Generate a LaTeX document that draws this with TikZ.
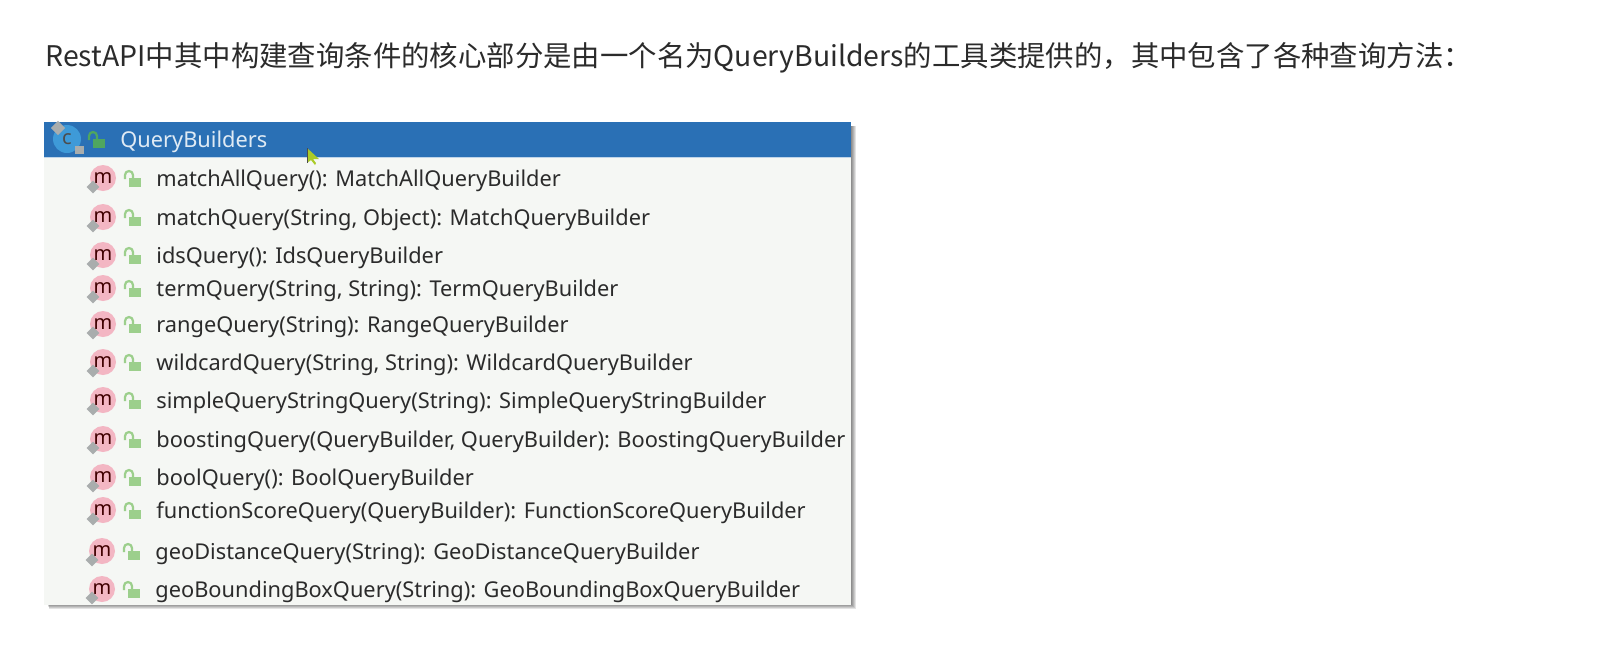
\documentclass[tikz,border=0pt]{standalone}
\usepackage{fontspec}
\setmainfont{Noto Sans}
\newfontfamily\cjk{Noto Sans CJK SC}
\usetikzlibrary{positioning}
\definecolor{headblue}{HTML}{2A70B5}
\definecolor{panelbg}{HTML}{F5F7F4}
\definecolor{pinkm}{HTML}{F3B6C3}
\definecolor{lockgreen}{HTML}{9CCF8C}
\definecolor{lockdark}{HTML}{4FA65F}
\definecolor{iconblue}{HTML}{3E9AD8}
\definecolor{tagray}{HTML}{A9ADAD}
\definecolor{inktext}{HTML}{2B2B2B}
\tikzset{
    rowtext/.style={anchor=west, inner sep=0pt, text=inktext, font=\fontsize{10.9}{13}\selectfont},
    micon/.style={circle, fill=pinkm, minimum size=13pt, inner sep=0pt, text=black!75!red, font=\fontsize{10}{10}\selectfont},
    tagicon/.style={fill=tagray, minimum size=4.5pt, inner sep=0pt, rotate=45}
}
\newcommand{\lockicon}[3]{%
    \fill[#3] (#1-4, #2) rectangle (#1+8, #2+9);
    \draw[#3, line width=1.1pt] (#1-8, #2+1) -- (#1-8, #2-3) arc[start angle=180, end angle=360, radius=4] -- (#1, #2);
}
\begin{document}
\begin{tikzpicture}[x=0.5pt, y=-0.5pt]
\useasboundingbox (0, 0) rectangle (1603, 644);
\fill[white] (0, 0) rectangle (1603, 644);

% titolo
\node[anchor=west, inner sep=0pt, text=inktext, font=\fontsize{14.2}{17}\selectfont\cjk] (title) at (45, 58)
    {RestAPI中其中构建查询条件的核心部分是由一个名为QueryBuilders的工具类提供的，其中包含了各种查询方法：};

% ombra
\foreach \i in {1, ..., 6} {
    \fill[black, opacity=0.11] (46 + \i / 2, 126) rectangle (850 + \i, 603 + \i);
}

% pannello
\fill[panelbg] (44, 157) rectangle (851, 605);
\fill[headblue] (44, 122) rectangle (851, 157);
\draw[white!70!headblue] (44, 157) -- (851, 157);

% intestazione
\node[circle, fill=iconblue, minimum size=14pt, inner sep=0pt, text=black!70, font=\fontsize{10}{10}\selectfont] (classicon) at (67, 139) {c};
\node[fill=tagray, minimum size=5pt, inner sep=0pt, rotate=45] (classtag) at (58, 128) {};
\fill[tagray] (75, 146) rectangle (84, 154);
\lockicon{97}{139}{lockdark}
\node[anchor=west, inner sep=0pt, text=white!85!headblue, font=\fontsize{10.9}{13}\selectfont] (classname) at (120, 142) {QueryBuilders};

% metodi
\foreach \y/\tx/\label in {
    178/156/{matchAllQuery(): MatchAllQueryBuilder},
    217/156/{matchQuery(String, Object): MatchQueryBuilder},
    255/156/{idsQuery(): IdsQueryBuilder},
    288/156/{termQuery(String, String): TermQueryBuilder},
    324/156/{rangeQuery(String): RangeQueryBuilder},
    362/156/{wildcardQuery(String, String): WildcardQueryBuilder},
    400/156/{simpleQueryStringQuery(String): SimpleQueryStringBuilder},
    439/156/{boostingQuery(QueryBuilder, QueryBuilder): BoostingQueryBuilder},
    477/156/{boolQuery(): BoolQueryBuilder},
    510/156/{functionScoreQuery(QueryBuilder): FunctionScoreQueryBuilder},
    551/155/{geoDistanceQuery(String): GeoDistanceQueryBuilder},
    589/155/{geoBoundingBoxQuery(String): GeoBoundingBoxQueryBuilder}} {
    \node[micon] (m\y) at (\tx - 53, \y) {m};
    \node[tagicon] (t\y) at (\tx - 63, \y + 9) {};
    \lockicon{\tx - 23}{\y}{lockgreen}
    \node[rowtext] (r\y) at (\tx, \y + 2.5) {\label};
}

% cursore
\fill[yellow!70!green!90!black] (307, 148) -- (307, 163) -- (311, 160) -- (315, 165) -- (316, 163) -- (313, 159) -- (319, 159) -- cycle;
\draw[black!70, line width=0.3pt] (307, 148) -- (307, 163);
\end{tikzpicture}
\end{document}
